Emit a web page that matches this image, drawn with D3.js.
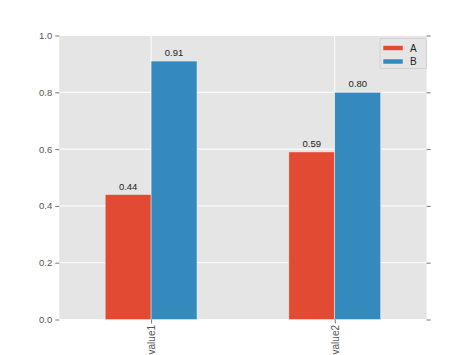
<!DOCTYPE html>
<html><head><meta charset="utf-8">
<script src="https://cdn.jsdelivr.net/npm/d3@7"></script>
<style>body{margin:0;background:#fff}svg{display:block}text{font-family:"Liberation Sans",Arial,sans-serif}</style>
</head><body><svg id="c" width="474" height="355"></svg>
<script>
const categories = ["value1", "value2"];
const seriesNames = ["A", "B"];
const valuesA = [0.44, 0.59];
const valuesB = [0.91, 0.80];
const yTicks = [0.0, 0.2, 0.4, 0.6, 0.8, 1.0];
const colors = ["#E24A33", "#348ABD"];

const FONT = "Liberation Sans, Arial, sans-serif";
const m = {l: 59.25, r: 426.6, t: 35.5, b: 319.5};
const svg = d3.select("#c");
const x = d3.scaleLinear().domain([-0.5, 1.5]).range([m.l, m.r]);
const y = d3.scaleLinear().domain([0, 1]).range([m.b, m.t]);

svg.append("rect").attr("x", m.l).attr("y", m.t).attr("width", m.r - m.l).attr("height", m.b - m.t).attr("fill", "#E5E5E5");

// grid
svg.append("g").selectAll("line").data(yTicks).join("line")
  .attr("x1", m.l).attr("x2", m.r).attr("y1", d => y(d)).attr("y2", d => y(d))
  .attr("stroke", "#fff").attr("stroke-width", 1);
svg.append("g").selectAll("line").data(categories).join("line")
  .attr("x1", (d, i) => x(i)).attr("x2", (d, i) => x(i)).attr("y1", m.t).attr("y2", m.b)
  .attr("stroke", "#fff").attr("stroke-width", 1);

// bars
const series = [valuesA, valuesB];
const bw = 0.25;
series.forEach((vals, s) => {
  const g = svg.append("g");
  g.selectAll("rect").data(vals).join("rect")
    .attr("x", (d, i) => x(i - 0.25 + s * bw))
    .attr("width", x(bw) - x(0))
    .attr("y", d => y(d))
    .attr("height", d => y(0) - y(d))
    .attr("fill", colors[s]).attr("stroke", "#EEEEEE").attr("stroke-width", 0.5);
  g.selectAll("text").data(vals).join("text")
    .attr("x", (d, i) => x(i - 0.25 + s * bw + bw / 2))
    .attr("y", d => y(d) - 5)
    .attr("text-anchor", "middle").attr("font-size", 9.5).attr("fill", "#222").attr("font-family", FONT)
    .text(d => d.toFixed(2));
});

// y axis labels & ticks (left and right)
const yAxisL = d3.axisLeft(y).tickValues(yTicks).tickFormat(d3.format(".1f")).tickSize(4).tickPadding(3);
const gl = svg.append("g").attr("transform", `translate(${m.l},0)`).call(yAxisL);
gl.select(".domain").remove();
gl.selectAll("line").attr("stroke", "#777");
gl.selectAll("text").attr("fill", "#555").attr("font-size", 9.5).attr("font-family", FONT);
const yAxisR = d3.axisRight(y).tickValues(yTicks).tickFormat("").tickSize(4);
const gr = svg.append("g").attr("transform", `translate(${m.r},0)`).call(yAxisR);
gr.select(".domain").remove();
gr.selectAll("line").attr("stroke", "#777");

// x axis
const xAxis = d3.axisBottom(x).tickValues([0, 1]).tickFormat(i => categories[i]).tickSize(4).tickPadding(3);
const gx = svg.append("g").attr("transform", `translate(0,${m.b})`).call(xAxis);
gx.select(".domain").remove();
gx.selectAll("line").attr("stroke", "#777");
gx.selectAll("text").attr("fill", "#555").attr("font-size", 10).attr("font-family", FONT)
  .attr("transform", "rotate(-90)").attr("text-anchor", "end").attr("dy", "0.35em").attr("x", -5.5).attr("y", 0);

// legend
const lg = svg.append("g");
lg.append("rect").attr("x", 380).attr("y", 38.5).attr("width", 46.5).attr("height", 30)
  .attr("fill", "#E5E5E5").attr("stroke", "#CCCCCC").attr("stroke-width", 0.8).attr("rx", 1);
seriesNames.forEach((n, i) => {
  lg.append("rect").attr("x", 383).attr("y", 45.5 + i * 13.5).attr("width", 20).attr("height", 5)
    .attr("fill", colors[i]).attr("stroke", "#EEEEEE").attr("stroke-width", 0.5);
  lg.append("text").attr("x", 410).attr("y", 48 + i * 13.5).attr("dy", "0.35em")
    .attr("font-size", 10).attr("fill", "#222").attr("font-family", FONT).text(n);
});
</script></body></html>
